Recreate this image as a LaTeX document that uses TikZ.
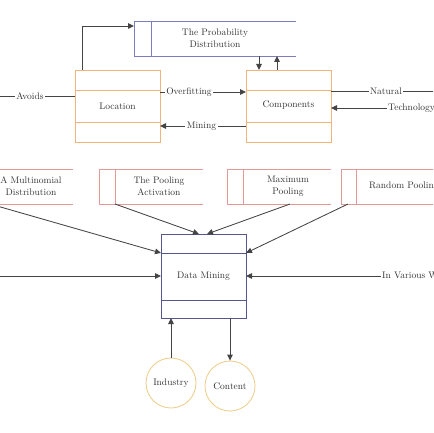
\documentclass[tikz,border=0pt]{standalone}
\usetikzlibrary{arrows.meta,calc}
\definecolor{orng}{HTML}{F2B47C}
\definecolor{pbl}{HTML}{7C7CC0}
\definecolor{dbl}{HTML}{56568F}
\definecolor{rdp}{HTML}{E29A98}
\definecolor{ylw}{HTML}{EDCD8A}
\definecolor{agr}{HTML}{444444}
\definecolor{txt}{HTML}{333333}
\tikzset{
  arr/.style={draw=agr, line width=0.85pt, -{Triangle[length=6pt,width=5.5pt]}},
  ln/.style={draw=agr, line width=0.85pt},
  lbl/.style={fill=white, inner sep=1.5pt, text=txt},
  tx/.style={text=txt, align=center, inner sep=0pt},
  obox/.style={draw=orng, line width=0.85pt, minimum width=85pt, minimum height=72pt, inner sep=0pt, outer sep=0pt},
  bbox/.style={draw=dbl, line width=0.9pt, minimum width=85pt, minimum height=84pt, inner sep=0pt, outer sep=0pt},
  pline/.style={draw=pbl, line width=0.85pt},
  rline/.style={draw=rdp, line width=0.85pt},
  circ/.style={draw=ylw, line width=0.85pt, circle, minimum size=50pt, inner sep=0pt, text=txt}
}
\begin{document}
\begin{tikzpicture}[x=1pt,y=-1pt,font=\fontsize{9.5}{12}\selectfont]
\useasboundingbox (0,0) rectangle (433,433);
\clip (0,0) rectangle (433,433);
% probability distribution box
\draw[pline] (296,21) -- (134,21) -- (134,56) -- (296,56);
\draw[pline] (151,21) -- (151,56);
\node[tx] (prob) at (215,38.5) {The Probability\\Distribution};
\coordinate (probin) at (134,26);
\coordinate (probd1) at (259,56);
\coordinate (probd2) at (277,56);
% Location
\node[obox] (loc) at (117.5,106) {};
\draw[draw=orng, line width=0.85pt] (75,90) -- (160,90) (75,122) -- (160,122);
\node[tx] (loct) at (117.5,106) {Location};
% Components
\node[obox] (comp) at (288.5,106) {};
\draw[draw=orng, line width=0.85pt] (246,90) -- (331,90) (246,122) -- (331,122);
\node[tx] (compt) at (288.5,105) {Components};
\coordinate (loctop) at (82,70);
\coordinate (compd1) at (259,70);
\coordinate (compd2) at (277,70);
\draw[arr] (loctop) |- (probin);
\draw[arr] (probd1) -- (compd1);
\draw[arr] (compd2) -- (probd2);
% Overfitting / Mining
\coordinate (lo) at (160,92); \coordinate (co) at (246,92);
\draw[arr] (lo) -- (co);
\node[lbl] (ovf) at (189,92) {Overfitting};
\coordinate (lm) at (160,126); \coordinate (cm) at (246,126);
\draw[arr] (cm) -- (lm);
\node[lbl] (min) at (201.5,126) {Mining};
% Avoids
\coordinate (av0) at (-5,96); \coordinate (av1) at (75,96);
\draw[ln] (av0) -- (av1);
\node[lbl] (avo) at (30,96) {Avoids};
% Natural / Technology
\coordinate (na0) at (331,91); \coordinate (na1) at (440,91);
\draw[ln] (na0) -- (na1);
\node[lbl] (nat) at (386,91) {Natural};
\coordinate (te0) at (450,108); \coordinate (te1) at (331,108);
\draw[arr] (te0) -- (te1);
\node[lbl, anchor=west] (tech) at (386.5,108) {Technology};
% row 2 boxes
\draw[rline] (73,169) -- (-26,169) -- (-26,204) -- (73,204);
\draw[rline] (-10,169) -- (-10,204);
\node[tx] (mult) at (31,186.5) {A Multinomial\\Distribution};
\draw[rline] (203,169) -- (99,169) -- (99,204) -- (203,204);
\draw[rline] (115,169) -- (115,204);
\node[tx] (pact) at (159,186.5) {The Pooling\\Activation};
\draw[rline] (331,169) -- (227,169) -- (227,204) -- (331,204);
\draw[rline] (243,169) -- (243,204);
\node[tx] (maxp) at (288,186.5) {Maximum\\Pooling};
\draw[rline] (450,169) -- (341,169) -- (341,204) -- (450,204);
\draw[rline] (356,169) -- (356,204);
\node[tx, anchor=west] (randp) at (369,186.5) {Random Pooling};
% Data Mining
\node[bbox] (dm) at (203.5,276) {};
\draw[draw=dbl, line width=0.9pt] (161,253) -- (246,253) (161,300) -- (246,300);
\node[tx] (dmt) at (203.5,276) {Data Mining};
\coordinate (mu0) at (-10,204); \coordinate (dmL1) at (161,253);
\coordinate (pa0) at (115,204); \coordinate (dmT1) at (199,234);
\coordinate (mp0) at (290,204); \coordinate (dmT2) at (207,234);
\coordinate (rp0) at (348,204); \coordinate (dmR1) at (246,253);
\draw[arr] (mu0) -- (dmL1);
\draw[arr] (pa0) -- (dmT1);
\draw[arr] (mp0) -- (dmT2);
\draw[arr] (rp0) -- (dmR1);
\coordinate (lw0) at (-5,276); \coordinate (dmL2) at (161,276);
\draw[arr] (lw0) -- (dmL2);
\coordinate (rw0) at (450,276); \coordinate (dmR2) at (246,276);
\draw[arr] (rw0) -- (dmR2);
\node[lbl, anchor=west] (ivw) at (380.5,276) {In Various Ways};
% circles
\node[circ] (ind) at (171,383) {Industry};
\node[circ] (con) at (230,386) {Content};
\coordinate (dmB1) at (171,318); \coordinate (dmB2) at (230,318);
\draw[arr] (ind.north) -- (dmB1);
\draw[arr] (dmB2) -- (con.north);
\end{tikzpicture}
\end{document}
